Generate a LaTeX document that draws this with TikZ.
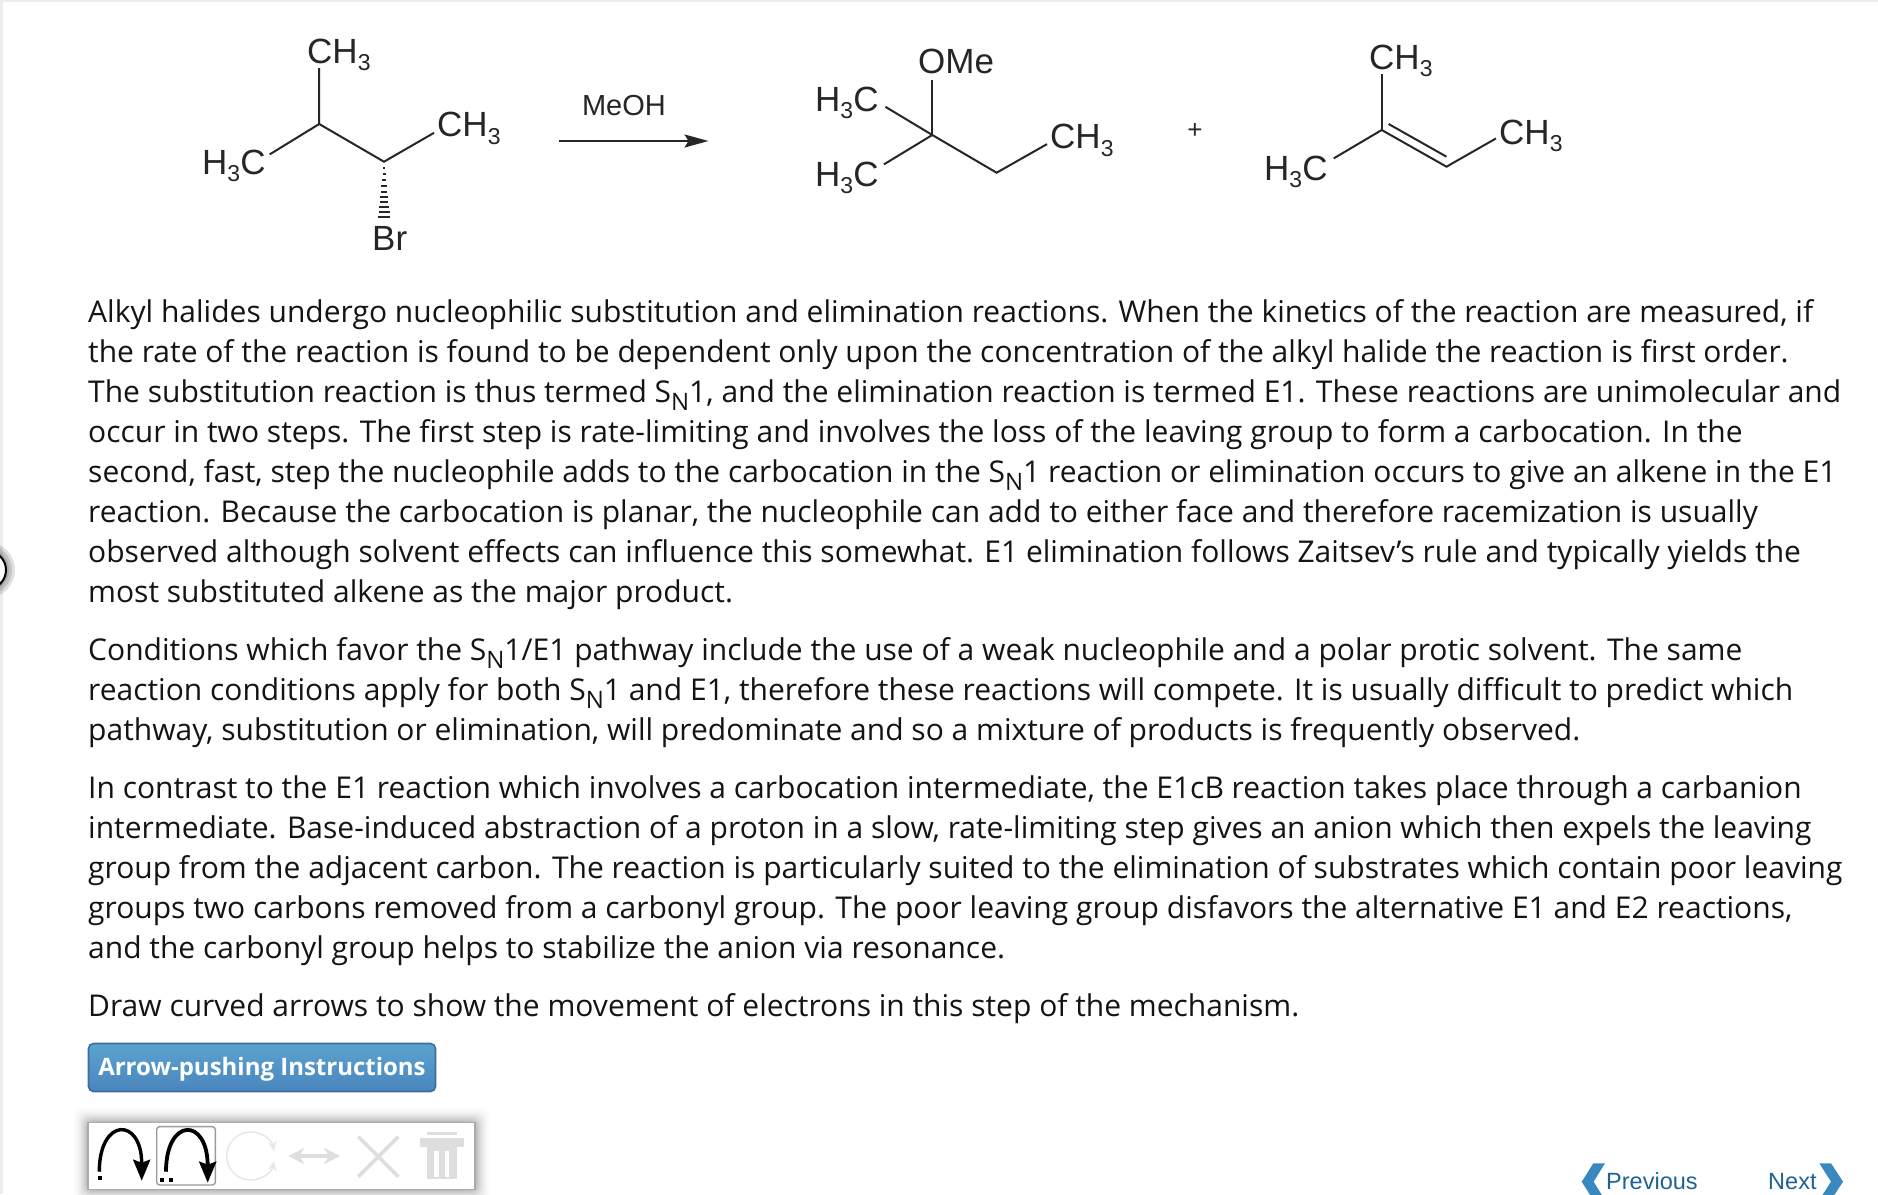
\documentclass[tikz,border=0pt]{standalone}
\usepackage{fontspec}
\setmainfont{Open Sans}
\newfontfamily\chemfont{Liberation Sans}
\usetikzlibrary{arrows.meta}
\definecolor{bodyink}{HTML}{141414}
\definecolor{bondink}{HTML}{262626}
\definecolor{btntop}{HTML}{5BA3CF}
\definecolor{btnbot}{HTML}{4A85BD}
\definecolor{btnrim}{HTML}{3A6F9F}
\definecolor{navink}{HTML}{1F6295}
\definecolor{navarrow}{HTML}{3A88C0}
\definecolor{offtool}{HTML}{DEDEDE}
\newcommand{\chemsub}[1]{\raisebox{-.22em}{\fontsize{23}{23}\selectfont #1}}
\newcommand{\sn}{S\raisebox{-.27em}{\fontsize{24}{24}\selectfont N}}
\begin{document}
\begin{tikzpicture}[x=1pt,y=-1pt,>=stealth,
        atom/.style={anchor=base west,inner sep=0,text=bondink,font=\chemfont\fontsize{35}{38}\selectfont},
        bond/.style={draw=bondink,line width=2pt},
        textline/.style={anchor=base west,inner sep=0,text=bodyink,font=\fontsize{30}{40}\selectfont},
        navlabel/.style={anchor=base west,inner sep=0,text=navink,font=\chemfont\fontsize{23.5}{26}\selectfont},
        pushing/.style={draw=black,line width=3.4pt,-{Stealth[length=21pt,width=17pt,inset=3pt]}},
        officon/.style={draw=offtool,line width=3.6pt}]
    \useasboundingbox (0,0) rectangle (1878,1194);
    \clip (0,0) rectangle (1878,1194);
    \fill[white] (0,0) rectangle (1878,1194);
    \fill[black!7] (0,0) rectangle (1878,2);
    \fill[black!7] (0,0) rectangle (3,1194);
    % handle on the left edge
    \foreach \s in {9,6,3}
      \fill[black,opacity=.12] (-13,570) circle (19+\s);
    \draw[black,fill=white,line width=2pt] (-13,570) circle (19);

    % starting material
    \coordinate (c1) at (319.2,124);
    \coordinate (c2) at (384,161.7);
    \node[atom] (ch3a) at (307,63) {CH\chemsub{3}};
    \node[atom] (hca) at (202,174) {H\chemsub{3}C};
    \node[atom] (ch3b) at (437,136.7) {CH\chemsub{3}};
    \node[atom] (br) at (372,250) {Br};
    \draw[bond] ([shift={(12,-3)}]ch3a.south west) -- (c1);
    \draw[bond] ([shift={(4,5)}]hca.north east) -- (c1) -- (c2) -- ([shift={(-3,-12)}]ch3b.south west);
    \foreach \y/\w in {6/1,12/1.5,18/2,24/2.6,30/3.2,35/3.8,40/4.3,45/4.9,50/5.5,55/6}
      \draw[bondink,line width=1.7pt] ([shift={(-\w,\y)}]c2) -- ([shift={(\w,\y)}]c2);

    % reaction arrow
    \node[atom,font=\chemfont\fontsize{29}{32}\selectfont] (meoh) at (581.8,115.7) {MeOH};
    \coordinate (rxnstart) at (558.5,141);
    \coordinate (rxnend) at (708.5,141);
    \draw[bond,line width=1.8pt,-{Stealth[length=24pt,width=13pt,inset=4pt]}] (rxnstart) -- (rxnend);

    % ether product
    \coordinate (c3) at (932.3,135);
    \coordinate (c4) at (996.6,172.7);
    \node[atom] (ome) at (918,73.8) {OMe};
    \node[atom] (hcb) at (815,111) {H\chemsub{3}C};
    \node[atom] (hcc) at (815,186) {H\chemsub{3}C};
    \node[atom] (ch3c) at (1050,148.5) {CH\chemsub{3}};
    \draw[bond] ([shift={(14.3,6)}]ome.south west) -- (c3);
    \draw[bond] ([shift={(6.7,-12.3)}]hcb.south east) -- (c3);
    \draw[bond] ([shift={(5.2,3)}]hcc.north east) -- (c3) -- (c4) -- ([shift={(-3,-12.5)}]ch3c.south west);

    \node[inner sep=0,text=bondink,font=\chemfont\fontsize{26}{28}\selectfont] (plus) at (1195,131) {+};

    % alkene product
    \coordinate (c5) at (1381.7,130);
    \coordinate (c6) at (1446.5,166.7);
    \coordinate (d5) at (1388.6,124);
    \coordinate (d6) at (1446.5,156.7);
    \node[atom] (ch3d) at (1369,69) {CH\chemsub{3}};
    \node[atom] (hcd) at (1264,180) {H\chemsub{3}C};
    \node[atom] (ch3e) at (1499,144) {CH\chemsub{3}};
    \draw[bond] ([shift={(12.7,-3)}]ch3d.south west) -- (c5);
    \draw[bond] ([shift={(6,3)}]hcd.north east) -- (c5) -- (c6) -- ([shift={(-3,-13.7)}]ch3e.south west);
    \draw[bond] (d5) -- (d6);

    % first paragraph
    \node[textline] (l1) at (88,322) {Alkyl halides undergo nucleophilic substitution and elimination reactions. When the kinetics of the reaction are measured, if};
    \node[textline] (l2) at (88,362) {the rate of the reaction is found to be dependent only upon the concentration of the alkyl halide the reaction is first order.};
    \node[textline] (l3) at (88,402) {The substitution reaction is thus termed \sn1, and the elimination reaction is termed E1. These reactions are unimolecular and};
    \node[textline] (l4) at (88,442) {occur in two steps. The first step is rate-limiting and involves the loss of the leaving group to form a carbocation. In the};
    \node[textline] (l5) at (88,482) {second, fast, step the nucleophile adds to the carbocation in the \sn1 reaction or elimination occurs to give an alkene in the E1};
    \node[textline] (l6) at (88,522) {reaction. Because the carbocation is planar, the nucleophile can add to either face and therefore racemization is usually};
    \node[textline] (l7) at (88,562) {observed although solvent effects can influence this somewhat. E1 elimination follows Zaitsev’s rule and typically yields the};
    \node[textline] (l8) at (88,602) {most substituted alkene as the major product.};
    % second paragraph
    \node[textline] (m1) at (88,660.5) {Conditions which favor the \sn1/E1 pathway include the use of a weak nucleophile and a polar protic solvent. The same};
    \node[textline] (m2) at (88,700.5) {reaction conditions apply for both \sn1 and E1, therefore these reactions will compete. It is usually difficult to predict which};
    \node[textline] (m3) at (88,740.5) {pathway, substitution or elimination, will predominate and so a mixture of products is frequently observed.};
    % third paragraph
    \node[textline] (n1) at (88,798) {In contrast to the E1 reaction which involves a carbocation intermediate, the E1cB reaction takes place through a carbanion};
    \node[textline] (n2) at (88,838) {intermediate. Base-induced abstraction of a proton in a slow, rate-limiting step gives an anion which then expels the leaving};
    \node[textline] (n3) at (88,878) {group from the adjacent carbon. The reaction is particularly suited to the elimination of substrates which contain poor leaving};
    \node[textline] (n4) at (88,918) {groups two carbons removed from a carbonyl group. The poor leaving group disfavors the alternative E1 and E2 reactions,};
    \node[textline] (n5) at (88,958) {and the carbonyl group helps to stabilize the anion via resonance.};
    \node[textline] (p1) at (88,1016) {Draw curved arrows to show the movement of electrons in this step of the mechanism.};

    % button
    \node[draw=btnrim,line width=1.6pt,rounded corners=5pt,top color=btntop,bottom color=btnbot,
      minimum width=347pt,minimum height=48pt,inner sep=0,text=white,text height=20pt,text depth=5pt,
      font=\bfseries\fontsize{24}{28}\selectfont] (instr) at (262,1067.5) {Arrow-pushing Instructions};

    % toolbar
    \foreach \s in {16,15,...,1} {
      \pgfmathsetmacro\shade{32*(1-\s/17)*(1-\s/17)}
      \fill[black!\shade,rounded corners=8pt] (88.3-\s,1122.7-\s) rectangle (475+\s,1189.3+\s);
    }
    \node[draw=black!33,line width=1.8pt,fill=white,minimum width=387pt,minimum height=67pt,inner sep=0] (toolbar) at (281.6,1156) {};
    \node[draw=black!40,line width=1.4pt,rounded corners=3pt,minimum width=58.6pt,minimum height=58.3pt,inner sep=0] (selected) at (186,1155.8) {};
    % curved arrow tools
    \coordinate (fishstart) at (99.3,1171.7);
    \coordinate (fishend) at (141.7,1180.7);
    \draw[pushing] (fishstart) .. controls (99.3,1117) and (141.7,1117) .. (fishend);
    \fill[black] (98,1175.7) rectangle (102,1179.7);
    \coordinate (pairstart) at (166,1171.7);
    \coordinate (pairend) at (207.7,1182.7);
    \draw[pushing,line width=3.8pt] (pairstart) .. controls (166,1117) and (207.7,1117) .. (pairend);
    \fill[black] (160,1178) rectangle (164,1182);
    \fill[black] (169,1178) rectangle (173,1182);
    % disabled tools
    \coordinate (ring) at (250.7,1156);
    \draw[draw=black!9,line width=1.6pt,-{Stealth[length=10pt,width=9pt]}] ([shift={(-24,0)}]ring) arc[start angle=-180,end angle=-12,radius=24];
    \draw[draw=black!9,line width=1.6pt,-{Stealth[length=10pt,width=9pt]}] ([shift={(-24,0)}]ring) arc[start angle=180,end angle=12,radius=24];
    \coordinate (resleft) at (288.3,1156);
    \coordinate (resright) at (340,1156);
    \draw[officon,{Stealth[length=16pt,width=16pt]}-{Stealth[length=16pt,width=16pt]}] (resleft) -- (resright);
    \coordinate (crossa) at (358.3,1136.7);
    \coordinate (crossb) at (398.3,1176.7);
    \coordinate (crossc) at (398.3,1136.7);
    \coordinate (crossd) at (358.3,1176.7);
    \draw[officon] (crossa) -- (crossb);
    \draw[officon] (crossc) -- (crossd);
    \fill[offtool] (426.7,1132) rectangle (457.3,1135);
    \fill[offtool] (420,1138) rectangle (464,1147);
    \fill[offtool] (426.7,1147) rectangle (457.3,1179);
    \foreach \x in {434.3,444.5}
      \fill[white] (\x,1150.7) rectangle (\x+4.2,1176.7);

    % navigation
    \fill[navarrow] (1593.3,1163.3) -- (1605,1163.3) -- (1593.6,1181.7) -- (1605,1200) -- (1593.3,1200) -- (1581.7,1181.7) -- cycle;
    \node[navlabel] (prev) at (1606,1189.3) {Previous};
    \node[navlabel] (next) at (1768,1189.3) {Next};
    \fill[navarrow] (1819.3,1163.3) -- (1831,1163.3) -- (1843,1181.7) -- (1831,1200) -- (1819.3,1200) -- (1831,1181.7) -- cycle;
\end{tikzpicture}
\end{document}
